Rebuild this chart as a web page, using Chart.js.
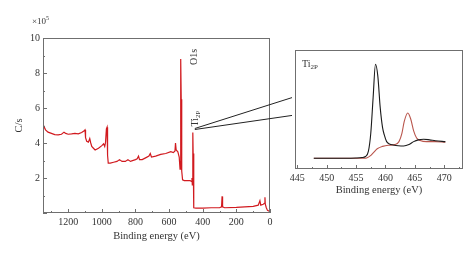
<!DOCTYPE html>
<html>
<head>
<meta charset="utf-8">
<script src="https://cdn.jsdelivr.net/npm/chart.js@4/dist/chart.umd.min.js"></script>
<style>
  html, body { margin: 0; padding: 0; background: #fff; }
  #wrap { position: relative; width: 474px; height: 257px; }
  #main { position: absolute; left: 0; top: 0; }
  #inset { position: absolute; left: 280px; top: 0; }
</style>
</head>
<body>
<div id="wrap">
  <canvas id="main" width="474" height="257"></canvas>
  <canvas id="inset" width="194" height="257"></canvas>
</div>
<script>
// Survey spectrum (binding energy eV, counts x10^5)
const surveyEnergy = [1350, 1345, 1335, 1320, 1300, 1280, 1260, 1240, 1225, 1215, 1200, 1180, 1160, 1140, 1120, 1105, 1100, 1097, 1090, 1080, 1072, 1066, 1060, 1050, 1040, 1020, 1000, 990, 983, 978, 973, 969, 966, 962, 950, 930, 910, 895, 880, 860, 845, 830, 800, 790, 782, 776, 760, 740, 720, 712, 705, 680, 650, 620, 590, 575, 565, 562, 558, 548, 540, 535, 532, 530, 528, 525, 520, 510, 490, 475, 468, 464, 462, 459, 457, 455, 452, 440, 400, 350, 300, 288, 285, 282, 270, 200, 150, 100, 70, 60, 55, 40, 33, 30, 28, 22, 15, 5, 0];
const surveyCounts = [5.0, 4.95, 4.75, 4.62, 4.55, 4.48, 4.47, 4.5, 4.62, 4.55, 4.5, 4.52, 4.55, 4.52, 4.6, 4.7, 4.75, 4.3, 4.1, 4.05, 4.25, 4.0, 3.8, 3.7, 3.6, 3.7, 3.85, 3.95, 3.8, 4.05, 4.8, 4.9, 3.3, 2.85, 2.85, 2.9, 2.95, 3.05, 2.95, 2.95, 3.05, 2.95, 3.05, 3.1, 3.25, 3.05, 3.05, 3.15, 3.25, 3.4, 3.2, 3.25, 3.35, 3.4, 3.5, 3.45, 3.55, 4.0, 3.6, 3.5, 3.2, 2.5, 7.5, 8.8, 6.5, 2.4, 1.9, 1.85, 1.85, 1.85, 1.8, 2.0, 1.6, 4.6, 3.4, 1.1, 0.3, 0.28, 0.28, 0.3, 0.3, 0.35, 0.95, 0.35, 0.3, 0.32, 0.35, 0.38, 0.45, 0.7, 0.45, 0.5, 0.55, 0.9, 0.5, 0.3, 0.15, 0.1, 0.1];
const surveyYTicks = [2, 4, 6, 8, 10];
const o1sPeak = { energy: 530, counts: 8.8 };
const ti2pPeak = { energy: 459, counts: 4.6 };

// Ti 2p high resolution (relative intensity)
const tiBlackEnergy = [447.8, 450, 453, 455, 456, 456.6, 457.1, 457.5, 457.9, 458.3, 458.7, 459.1, 459.5, 459.8, 460.2, 460.7, 461.3, 462.2, 463.1, 464, 464.8, 465.6, 466.5, 467.5, 468.5, 470.2];
const tiBlackCounts = [9, 9, 9, 9.2, 9.6, 10.5, 15, 30, 60, 88, 78, 52, 35, 28.6, 23, 21, 20.2, 19.5, 19.3, 20.5, 23, 24.5, 25, 24.5, 23.8, 23];
const tiRedEnergy = [447.8, 450, 453, 455, 456.3, 456.8, 457.4, 458, 458.6, 459.5, 460.5, 461.6, 462.3, 462.8, 463.2, 463.8, 464.3, 464.8, 465.3, 465.9, 467, 468.5, 470.2];
const tiRedCounts = [9, 9, 9, 9, 9, 9.3, 11, 14, 17, 19, 20, 20.5, 23, 30, 40, 47, 42, 32, 26, 24, 23, 23, 22.5];
const insetXTicks = [445, 450, 455, 460, 465, 470];

const serif = "'Liberation Serif', 'DejaVu Serif', serif";
const axisGray = '#6f6f6f';
const textColor = '#333';

function toPoints(xs, ys) {
  return xs.map((x, i) => ({ x, y: ys[i] }));
}

// box round the plot area plus short inward ticks
function frameTicks(majorX, minorX, majorY, minorY) {
  return {
    id: 'frameTicks',
    afterDatasetsDraw(chart) {
      const { ctx, chartArea: a, scales } = chart;
      ctx.save();
      ctx.strokeStyle = axisGray;
      ctx.lineWidth = 1;
      ctx.strokeRect(a.left + 0.5, a.top + 0.5, a.right - a.left - 1, a.bottom - a.top - 1);
      ctx.beginPath();
      const xs = scales.x;
      majorX.forEach(v => { const p = Math.round(xs.getPixelForValue(v)) + 0.5; ctx.moveTo(p, a.bottom); ctx.lineTo(p, a.bottom - 4); });
      minorX.forEach(v => { const p = Math.round(xs.getPixelForValue(v)) + 0.5; ctx.moveTo(p, a.bottom); ctx.lineTo(p, a.bottom - 2); });
      if (scales.y && majorY.length) {
        const ys = scales.y;
        majorY.forEach(v => { const p = Math.round(ys.getPixelForValue(v)) + 0.5; ctx.moveTo(a.left, p); ctx.lineTo(a.left + 4, p); });
        minorY.forEach(v => { const p = Math.round(ys.getPixelForValue(v)) + 0.5; ctx.moveTo(a.left, p); ctx.lineTo(a.left + 2, p); });
      }
      ctx.stroke();
      ctx.restore();
    }
  };
}

// ---- inset ----
const inset = new Chart(document.getElementById('inset'), {
  type: 'line',
  data: {
    datasets: [
      { data: toPoints(tiBlackEnergy, tiBlackCounts), borderColor: '#1b1b1b', borderWidth: 1.1, pointRadius: 0, cubicInterpolationMode: 'monotone' },
      { data: toPoints(tiRedEnergy, tiRedCounts), borderColor: '#b9554c', borderWidth: 1.1, pointRadius: 0, cubicInterpolationMode: 'monotone' },
    ],
  },
  options: {
    responsive: false,
    animation: false,
    devicePixelRatio: 1,
    layout: { padding: { left: 15, right: 11, top: 50, bottom: 0 } },
    plugins: { legend: { display: false }, tooltip: { enabled: false } },
    scales: {
      x: {
        type: 'linear', min: 444.6, max: 473.2,
        grid: { display: false, drawTicks: false }, border: { display: false },
        ticks: { stepSize: 5, includeBounds: false, padding: 3, color: textColor, font: { family: serif, size: 10 }, callback: (v) => String(v) },
        title: { display: true, text: 'Binding energy (eV)', color: textColor, font: { family: serif, size: 10.5 }, padding: { top: 0, bottom: 60 } },
        afterFit: (s) => { s.height = 88; },
      },
      y: { display: false, min: 0, max: 100 },
    },
  },
  plugins: [
    frameTicks(insetXTicks, insetXTicks.map(v => v + 2.5).filter(v => v < 473), [], []),
    {
      id: 'insetLabel',
      afterDraw(chart) {
        const { ctx, chartArea: a } = chart;
        ctx.save();
        ctx.fillStyle = textColor;
        ctx.font = `10px ${serif}`;
        ctx.fillText('Ti', a.left + 7, a.top + 17);
        const w = ctx.measureText('Ti').width;
        ctx.font = `7px ${serif}`;
        ctx.fillText('2P', a.left + 7 + w, a.top + 19);
        ctx.restore();
      }
    }
  ],
});

// ---- main survey ----
const yMinor = [1, 3, 5, 7, 9];
const xMajor = [0, 200, 400, 600, 800, 1000, 1200];
const xMinor = [100, 300, 500, 700, 900, 1100, 1300];

new Chart(document.getElementById('main'), {
  type: 'line',
  data: {
    datasets: [{
      data: toPoints(surveyEnergy, surveyCounts),
      borderColor: '#d11a1f', borderWidth: 1.2, pointRadius: 0, tension: 0,
    }],
  },
  options: {
    responsive: false,
    animation: false,
    devicePixelRatio: 1,
    layout: { padding: { left: 0, right: 204, top: 38, bottom: 0 } },
    plugins: { legend: { display: false }, tooltip: { enabled: false } },
    scales: {
      x: {
        type: 'linear', reverse: true, min: 0, max: 1350,
        grid: { display: false, drawTicks: false }, border: { display: false },
        ticks: { stepSize: 200, includeBounds: false, padding: 3, color: textColor, font: { family: serif, size: 10 }, callback: (v) => String(v) },
        title: { display: true, text: 'Binding energy (eV)', color: textColor, font: { family: serif, size: 10.5 }, padding: { top: 0, bottom: 14 } },
        afterFit: (s) => { s.height = 44; },
      },
      y: {
        min: 0, max: 10,
        grid: { display: false, drawTicks: false }, border: { display: false },
        ticks: {
          stepSize: 2, padding: 3, color: textColor, font: { family: serif, size: 10 },
          callback: (v) => surveyYTicks.includes(v) ? String(v) : '',
        },
        title: { display: true, text: 'C/s', color: textColor, font: { family: serif, size: 10.5 }, padding: { top: 13, bottom: 0 } },
        afterFit: (s) => { s.width = 43; },
      },
    },
  },
  plugins: [
    frameTicks(xMajor, xMinor, [0, ...surveyYTicks], yMinor),
    {
      id: 'surveyLabels',
      afterDraw(chart) {
        const { ctx, chartArea: a, scales } = chart;
        const xs = scales.x, ys = scales.y;
        ctx.save();
        ctx.fillStyle = textColor;
        // exponent note
        ctx.font = `9px ${serif}`;
        ctx.fillText('\u00d710', a.left - 11, a.top - 14);
        const w = ctx.measureText('\u00d710').width;
        ctx.font = `6px ${serif}`;
        ctx.fillText('5', a.left - 11 + w, a.top - 18);

        // O1s label
        const ox = xs.getPixelForValue(o1sPeak.energy), oy = ys.getPixelForValue(o1sPeak.counts);
        ctx.save();
        ctx.translate(ox + 16, oy + 6);
        ctx.rotate(-Math.PI / 2);
        ctx.font = `10px ${serif}`;
        ctx.fillText('O1s', 0, 0);
        ctx.restore();

        // Ti2P label
        const tx = xs.getPixelForValue(ti2pPeak.energy), ty = ys.getPixelForValue(ti2pPeak.counts);
        ctx.save();
        ctx.translate(tx + 5, ty - 6);
        ctx.rotate(-Math.PI / 2);
        ctx.font = `10px ${serif}`;
        ctx.fillText('Ti', 0, 0);
        const tw = ctx.measureText('Ti').width;
        ctx.font = `7px ${serif}`;
        ctx.fillText('2P', tw, 2);
        ctx.restore();

        // connector lines to the inset
        const ia = inset.chartArea;
        const ex = 280 + ia.left - 3;
        const sx = tx + 2, sy = ty - 4;
        ctx.strokeStyle = '#222';
        ctx.lineWidth = 1;
        ctx.beginPath();
        ctx.moveTo(sx, sy); ctx.lineTo(ex, ia.top + 0.4 * (ia.bottom - ia.top));
        ctx.moveTo(sx, sy + 1); ctx.lineTo(ex, ia.top + 0.55 * (ia.bottom - ia.top));
        ctx.stroke();
        ctx.restore();
      }
    }
  ],
});
</script>
</body>
</html>
